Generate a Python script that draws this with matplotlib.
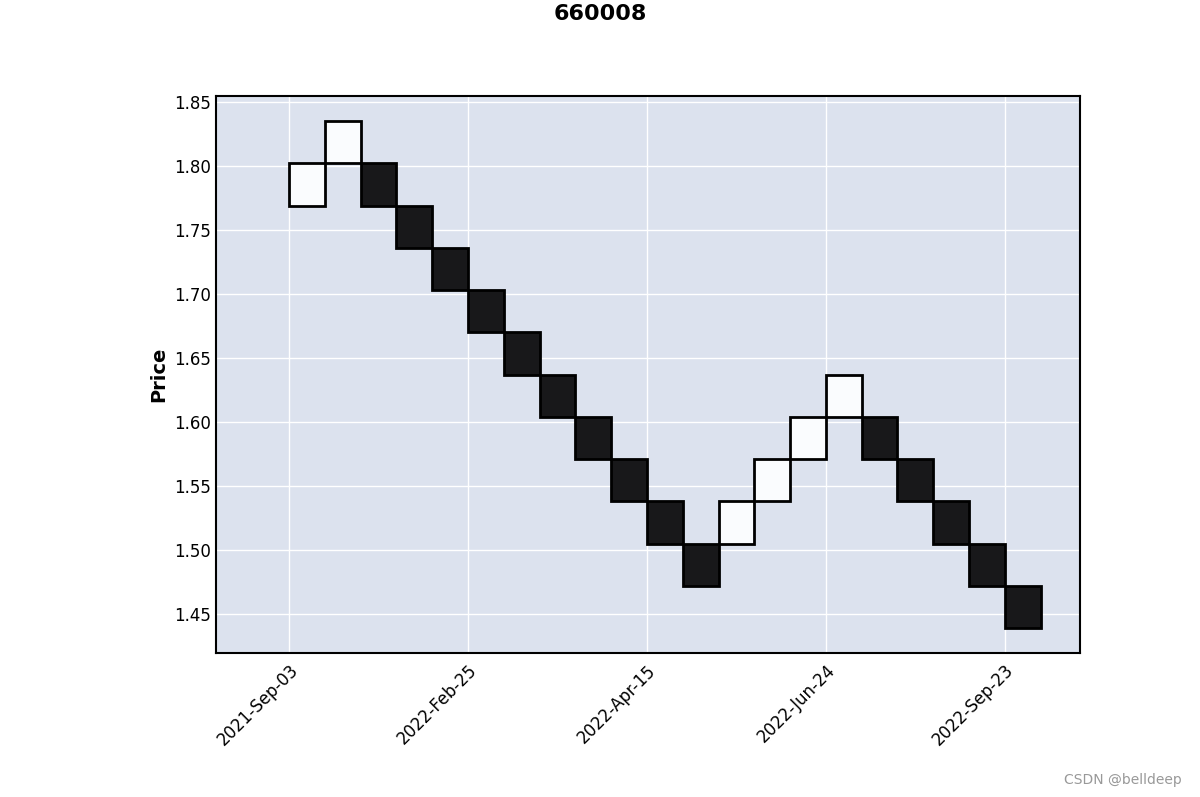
import matplotlib
matplotlib.use("Agg")
import matplotlib.pyplot as plt
from matplotlib.patches import Rectangle

brick_size = 0.033
brick_bottom = [1.769, 1.802, 1.769, 1.736, 1.703, 1.670, 1.637, 1.604, 1.571, 1.538, 1.505,
                1.472, 1.505, 1.538, 1.571, 1.604, 1.571, 1.538, 1.505, 1.472, 1.439]
brick_up = [1, 1, 0, 0, 0, 0, 0, 0, 0, 0, 0, 0, 1, 1, 1, 1, 0, 0, 0, 0, 0]
tick_pos = [0, 5, 10, 15, 20]
tick_labels = ["2021-Sep-03", "2022-Feb-25", "2022-Apr-15", "2022-Jun-24", "2022-Sep-23"]

fig = plt.figure(figsize=(12, 7.97), dpi=100)
ax = fig.add_axes([216/1200, 1-653/797, (1080-216)/1200, (653-96)/797])
ax.set_facecolor("#dce2ee")
for i, (b, up) in enumerate(zip(brick_bottom, brick_up)):
    ax.add_patch(Rectangle((i, b), 1, brick_size,
                           facecolor="#fafcfe" if up else "#18181a",
                           edgecolor="black", linewidth=2, zorder=3))
ax.set_xlim(-2.04, 22.1)
ax.set_ylim(1.4195, 1.8547)
ax.set_yticks([1.45, 1.50, 1.55, 1.60, 1.65, 1.70, 1.75, 1.80, 1.85])
ax.set_xticks(tick_pos)
ax.set_xticklabels(tick_labels, rotation=45, ha="right", rotation_mode="anchor", fontsize=12)
ax.tick_params(axis="y", labelsize=12, length=0)
ax.tick_params(axis="x", length=0, pad=6)
ax.grid(True, color="white", linewidth=1)
ax.set_axisbelow(True)
for s in ax.spines.values():
    s.set_linewidth(1.5)
    s.set_color("black")
ax.set_ylabel("Price", fontsize=14, fontweight="bold")
fig.suptitle("660008", fontsize=16, fontweight="bold", y=0.995)
fig.text(0.985, 0.012, "CSDN @belldeep", ha="right", va="bottom", fontsize=10, color="#999999")
fig.savefig("out.png")
